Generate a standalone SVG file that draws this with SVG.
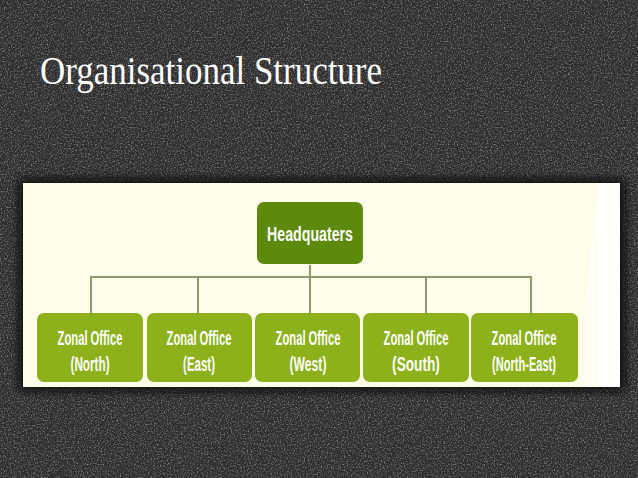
<svg xmlns="http://www.w3.org/2000/svg" width="638" height="478" viewBox="0 0 638 478">
<defs>
<filter id="noise" x="0" y="0" width="100%" height="100%">
<feTurbulence type="fractalNoise" baseFrequency="0.7" numOctaves="2" seed="3" result="t"/>
<feColorMatrix in="t" type="matrix" values="0 0 0 0 0.45  0 0 0 0 0.45  0 0 0 0 0.45  0 0 0 -1.6 0.85" result="n"/>
<feComposite in="n" in2="SourceGraphic" operator="in"/>
</filter>
<filter id="shadow" x="-10%" y="-20%" width="120%" height="140%">
<feGaussianBlur stdDeviation="4"/>
</filter>
<linearGradient id="glare" x1="0" y1="0" x2="1" y2="0">
<stop offset="0" stop-color="#ffffff" stop-opacity="0"/>
<stop offset="0.6" stop-color="#ffffff" stop-opacity="0.95"/>
<stop offset="1" stop-color="#ffffff" stop-opacity="1"/>
</linearGradient>
<style>
.hq{fill:#5d8a0d;}
.zo{fill:#8cb11b;}
.lbl{font-family:"Liberation Sans",Arial,sans-serif;font-weight:bold;font-size:21px;fill:#ffffff;text-anchor:middle;}
.conn{stroke:#8c9a6c;stroke-width:2;fill:none;}
</style>
</defs>
<rect width="638" height="478" fill="#2e2e2e"/>
<rect width="638" height="478" fill="#2e2e2e" filter="url(#noise)"/>
<text x="40" y="84" font-family="Liberation Serif,'Times New Roman',serif" font-size="39" fill="#ffffff" textLength="342" lengthAdjust="spacingAndGlyphs">Organisational Structure</text>
<rect x="19" y="179" width="606" height="212" fill="#0a0a0a" filter="url(#shadow)"/>
<rect x="23" y="183" width="597" height="204" fill="#fdfde9"/>
<polygon points="598,183 620,183 620,387 576,387" fill="url(#glare)"/>
<g id="connectors">
<path class="conn" d="M310,265 V277 M91,277 H531 M91,276 V313 M198,276 V313 M426,276 V313 M531,276 V313 M310,277 V313"/>
</g>
<g id="hq">
<rect class="hq" x="257" y="202" width="106" height="62" rx="7"/>
<g transform="translate(310 0) scale(0.55 1)"><text class="lbl" x="0" y="241" textLength="156" lengthAdjust="spacingAndGlyphs">Headquaters</text></g>
</g>
<g id="north">
<rect class="zo" x="37" y="313" width="106" height="69" rx="7"/>
<g transform="translate(90 0) scale(0.55 1)">
<text class="lbl" x="0" y="345" textLength="118" lengthAdjust="spacingAndGlyphs">Zonal Office</text>
<text class="lbl" x="0" y="371" textLength="71" lengthAdjust="spacingAndGlyphs">(North)</text>
</g>
</g>
<g id="east">
<rect class="zo" x="147" y="313" width="105" height="69" rx="7"/>
<g transform="translate(199 0) scale(0.55 1)">
<text class="lbl" x="0" y="345" textLength="118" lengthAdjust="spacingAndGlyphs">Zonal Office</text>
<text class="lbl" x="0" y="371" textLength="58" lengthAdjust="spacingAndGlyphs">(East)</text>
</g>
</g>
<g id="west">
<rect class="zo" x="255" y="313" width="105" height="69" rx="7"/>
<g transform="translate(308 0) scale(0.55 1)">
<text class="lbl" x="0" y="345" textLength="118" lengthAdjust="spacingAndGlyphs">Zonal Office</text>
<text class="lbl" x="0" y="371" textLength="67" lengthAdjust="spacingAndGlyphs">(West)</text>
</g>
</g>
<g id="south">
<rect class="zo" x="363" y="313" width="106" height="69" rx="7"/>
<g transform="translate(416 0) scale(0.55 1)">
<text class="lbl" x="0" y="345" textLength="118" lengthAdjust="spacingAndGlyphs">Zonal Office</text>
<text class="lbl" x="0" y="371" textLength="87" lengthAdjust="spacingAndGlyphs">(South)</text>
</g>
</g>
<g id="northeast">
<rect class="zo" x="471" y="313" width="107" height="69" rx="7"/>
<g transform="translate(524 0) scale(0.55 1)">
<text class="lbl" x="0" y="345" textLength="118" lengthAdjust="spacingAndGlyphs">Zonal Office</text>
<text class="lbl" x="0" y="371" textLength="116" lengthAdjust="spacingAndGlyphs">(North-East)</text>
</g>
</g>
</svg>
